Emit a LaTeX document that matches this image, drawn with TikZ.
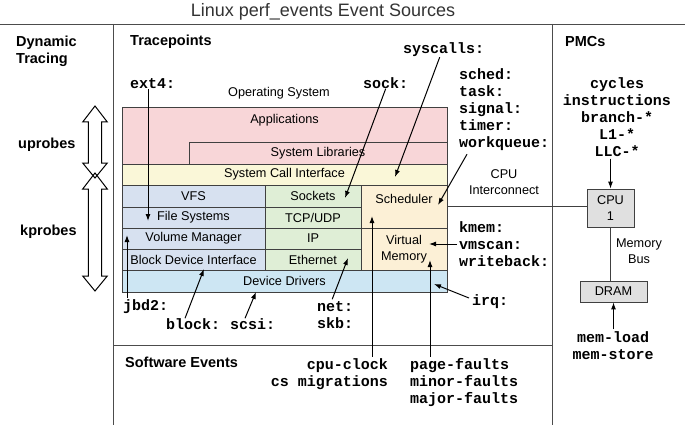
\documentclass[tikz,border=0pt]{standalone}
\usepackage{fontspec}
\setmainfont{Liberation Sans}
\setmonofont{Liberation Mono}
\usetikzlibrary{arrows.meta,calc}
\definecolor{appcol}{RGB}{248,214,216}
\definecolor{scicol}{RGB}{250,247,216}
\definecolor{fscol}{RGB}{215,225,240}
\definecolor{netcol}{RGB}{223,238,214}
\definecolor{schedcol}{RGB}{252,240,214}
\definecolor{ddcol}{RGB}{205,230,243}
\definecolor{hwcol}{RGB}{224,224,224}
\begin{document}
\begin{tikzpicture}[x=1pt,y=-1pt,
  rule/.style={draw=black!70,line width=0.8pt},
  layer/.style={draw=black!75,line width=0.7pt,inner sep=0pt,align=center,font=\fontsize{12.7}{16}\selectfont},
  lbl/.style={font=\fontsize{12.7}{16}\selectfont,align=center,inner sep=0pt},
  head/.style={font=\bfseries\fontsize{14.5}{17}\selectfont,align=left,inner sep=0pt},
  code/.style={font=\ttfamily\bfseries\fontsize{15}{17}\selectfont,align=left,inner sep=0pt},
  ptr/.style={-{Latex[length=7pt,width=5pt]},line width=1pt},
  probe/.style={draw=black,line width=1pt,line join=miter}]
\useasboundingbox (0,0) rectangle (685,425);
\node[font=\fontsize{18}{20}\selectfont,text=black!80,anchor=base] (title) at (323,17) {Linux perf\_events Event Sources};
\draw[rule] (0,24) -- (685,24);
\draw[rule] (113,24) -- (113,425);
\draw[rule] (552,24) -- (552,425);
\draw[rule] (113,345) -- (552,345);
\node[head,anchor=north west] (dyn) at (16,36) {Dynamic\\Tracing};
\node[head,anchor=west] (tp) at (130,42) {Tracepoints};
\node[head,anchor=west] (pmc) at (565,42) {PMCs};
\node[head,anchor=west] (swev) at (125,362) {Software Events};
\node[head,anchor=west] (uplbl) at (18,145) {uprobes};
\node[head,anchor=west] (kplbl) at (20,232) {kprobes};
\draw[probe] (95,106) -- (107.3,122) -- (101.7,122) -- (101.7,163) -- (107.3,163) -- (95,178) -- (82.7,163) -- (88.3,163) -- (88.3,122) -- (82.7,122) -- cycle;
\draw[probe] (95,173) -- (107.3,189) -- (101.7,189) -- (101.7,276) -- (107.3,276) -- (95,291) -- (82.7,276) -- (88.3,276) -- (88.3,189) -- (82.7,189) -- cycle;
\node[lbl] (os) at (279,93) {Operating System};
\node[layer,fill=appcol,minimum width=325pt,minimum height=57pt] (apps) at (284.5,135.5) {};
\node[lbl] (appslbl) at (284.5,120) {Applications};
\node[layer,fill=appcol,minimum width=258pt,minimum height=22pt] (syslib) at (318,153) {System Libraries};
\node[layer,fill=scicol,minimum width=325pt,minimum height=21pt] (sci) at (284.5,174.5) {System Call Interface};
\node[layer,fill=fscol,minimum width=143pt,minimum height=22pt] (vfs) at (193.5,196) {VFS};
\node[layer,fill=fscol,minimum width=143pt,minimum height=21pt] (fs) at (193.5,217.5) {File Systems};
\node[layer,fill=fscol,minimum width=143pt,minimum height=21pt] (volmgr) at (193.5,238.5) {Volume Manager};
\node[layer,fill=fscol,minimum width=143pt,minimum height=21pt] (bdi) at (193.5,259.5) {Block Device Interface};
\node[layer,fill=netcol,minimum width=96pt,minimum height=22pt] (sockets) at (313,196) {Sockets};
\node[layer,fill=netcol,minimum width=96pt,minimum height=21pt] (tcp) at (313,217.5) {TCP/UDP};
\node[layer,fill=netcol,minimum width=96pt,minimum height=21pt] (ip) at (313,238.5) {IP};
\node[layer,fill=netcol,minimum width=96pt,minimum height=21pt] (eth) at (313,259.5) {Ethernet};
\node[layer,fill=schedcol,minimum width=86pt,minimum height=43pt] (sched) at (404,206.5) {};
\node[lbl] (schedlbl) at (404,199) {Scheduler};
\node[layer,fill=schedcol,minimum width=86pt,minimum height=42pt] (vmem) at (404,249) {Virtual\\Memory};
\node[layer,fill=ddcol,minimum width=325pt,minimum height=22pt] (dd) at (284.5,281) {Device Drivers};
\node[lbl] (icn) at (504,182) {CPU\\Interconnect};
\node[layer,fill=hwcol,line width=0.8pt,minimum width=47pt,minimum height=38pt] (cpu) at (610.5,208) {CPU\\1};
\node[layer,fill=hwcol,line width=0.8pt,minimum width=67pt,minimum height=21pt] (dram) at (613.5,291.5) {DRAM};
\node[lbl] (bus) at (639,251.5) {Memory\\Bus};
\draw[line width=0.8pt,black!75] (sched.east) -- (sched.east -| cpu.west);
\draw[line width=0.8pt,black!75] (cpu.south) -- (cpu.south |- dram.north);
\node[code,anchor=west] (ext4) at (130,84) {ext4:};
\node[code,anchor=west] (sock) at (363,83) {sock:};
\node[code,anchor=west] (syscalls) at (403,50) {syscalls:};
\node[code,anchor=west] (schedlist) at (459,110) {sched:\\task:\\signal:\\timer:\\workqueue:};
\node[code,align=center] (pmclist) at (617,117) {cycles\\instructions\\branch-*\\L1-*\\LLC-*};
\node[code,anchor=west] (kmemlist) at (459,244) {kmem:\\vmscan:\\writeback:};
\node[code,anchor=west] (irq) at (472,302) {irq:};
\node[code,anchor=west] (netlist) at (317,315) {net:\\skb:};
\node[code,anchor=west] (jbd2) at (123,307) {jbd2:};
\node[code,anchor=west] (block) at (166,324) {block:};
\node[code,anchor=west] (scsi) at (230,324) {scsi:};
\node[code,anchor=east,align=right] (cpuclock) at (388,374.5) {cpu-clock\\cs migrations};
\node[code,anchor=west] (faults) at (410,383) {page-faults\\minor-faults\\major-faults};
\node[code,align=center] (memops) at (613,345.5) {mem-load\\mem-store};
\coordinate (fstip) at (148,221);
\coordinate (socktip) at (345,198);
\coordinate (scitip) at (395,177);
\coordinate (schedtip) at (438,205);
\coordinate (vmtip) at (429,244);
\coordinate (ddtip) at (434,284);
\coordinate (pftip) at (430,260);
\coordinate (cctip) at (372,216);
\coordinate (ethtip) at (348,258);
\coordinate (scsitip) at (256,292);
\coordinate (bditip) at (204,269);
\coordinate (jbdtip) at (127,235);
\draw[ptr] (ext4.south -| fstip) -- (fstip);
\draw[ptr] (sock.south) -- (socktip);
\draw[ptr] ([xshift=-4pt]syscalls.south) -- (scitip);
\draw[ptr] ([xshift=8pt,yshift=-3pt]schedlist.south west) -- (schedtip);
\draw[ptr] ([xshift=-2pt]kmemlist.west) -- (vmtip);
\draw[ptr] ([xshift=-3pt,yshift=4pt]irq.west) -- (ddtip);
\draw[ptr] ([xshift=20pt,yshift=2pt]faults.north west) -- (pftip);
\draw[ptr] ([xshift=-16pt,yshift=2pt]cpuclock.north east) -- (cctip);
\draw[ptr] ([xshift=-3pt,yshift=2pt]netlist.north) -- (ethtip);
\draw[ptr] ([xshift=15pt]scsi.north west) -- (scsitip);
\draw[ptr] ([xshift=19pt]block.north west) -- (bditip);
\draw[ptr] ([xshift=4pt,yshift=2pt]jbd2.north west) -- (jbdtip);
\draw[ptr] ([yshift=-2pt]pmclist.south -| cpu.north) -- (cpu.north);
\draw[ptr] ([yshift=2pt]memops.north -| dram.south) -- (dram.south);
\end{tikzpicture}
\end{document}
